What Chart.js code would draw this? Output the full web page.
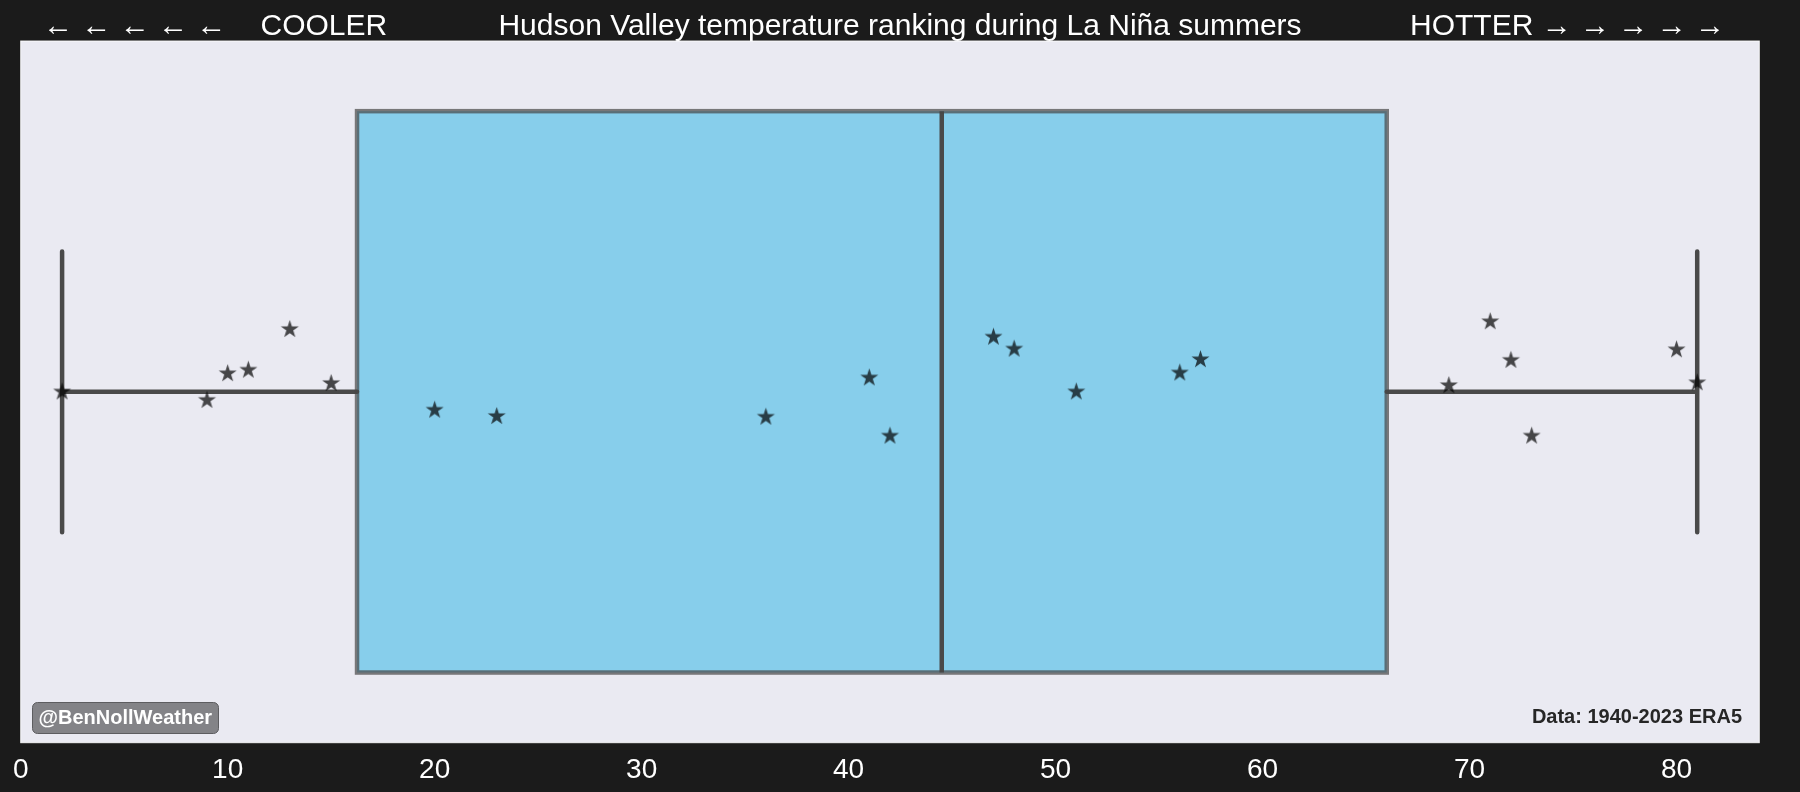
<!DOCTYPE html>
<html><head><meta charset="utf-8">
<script src="https://cdn.jsdelivr.net/npm/chart.js@4.4.1/dist/chart.umd.min.js"></script>
<style>html,body{margin:0;padding:0;background:#1b1b1b;overflow:hidden}canvas{display:block}</style>
</head><body>
<canvas id="c" width="1800" height="792"></canvas>
<script>
// ---- text ----
const titleText = "Hudson Valley temperature ranking during La Niña summers";
const leftArrows = "← ← ← ← ←";
const leftLabel = "COOLER";
const rightLabel = "HOTTER → → → → →";
const creditText = "@BenNollWeather";
const sourceText = "Data: 1940-2023 ERA5";

// ---- data: temperature rank of each La Niña summer (1 = coolest) ----
const ranks  = [2, 9, 10, 11, 13, 15, 20, 23, 36, 41, 42, 47, 48, 51, 56, 57, 69, 71, 72, 73, 80, 81];
// vertical strip-plot jitter of each point (category units, negative = up)
const jitter = [0.000, 0.012, -0.026, -0.031, -0.089, -0.012, 0.026, 0.035, 0.036, -0.020, 0.063,
                -0.078, -0.061, 0.000, -0.027, -0.046, -0.009, -0.100, -0.045, 0.063, -0.060, -0.013];
const tickValues = [0, 10, 20, 30, 40, 50, 60, 70, 80];
const xRange = [0, 84];

const FONT = "'Liberation Sans', Arial, Helvetica, sans-serif";

// ---- box statistics computed from the data ----
function quantile(s, p) {
  const pos = (s.length - 1) * p, lo = Math.floor(pos), hi = Math.ceil(pos);
  return s[lo] + (s[hi] - s[lo]) * (pos - lo);
}
const sorted = ranks.slice().sort((a, b) => a - b);
const q1 = quantile(sorted, 0.25), med = quantile(sorted, 0.5), q3 = quantile(sorted, 0.75);
const iqr = q3 - q1;
const wLo = Math.min(...sorted.filter(v => v >= q1 - 1.5 * iqr));
const wHi = Math.max(...sorted.filter(v => v <= q3 + 1.5 * iqr));

// ---- filled star marker ----
function makeStar(R, color) {
  const c = document.createElement('canvas');
  const s = Math.ceil(R * 2 + 4);
  c.width = s; c.height = s;
  const g = c.getContext('2d');
  const r = R * 0.381966;
  g.beginPath();
  for (let i = 0; i < 10; i++) {
    const rad = i % 2 === 0 ? R : r;
    const a = -Math.PI / 2 + i * Math.PI / 5;
    const px = s / 2 + rad * Math.cos(a), py = s / 2 + rad * Math.sin(a);
    i === 0 ? g.moveTo(px, py) : g.lineTo(px, py);
  }
  g.closePath();
  g.fillStyle = color;
  g.fill();
  return c;
}
const star = makeStar(9.5, 'rgba(0,0,0,0.7)');

const bgPlugin = {
  id: 'bg',
  beforeDraw(chart) {
    const { ctx, chartArea: a } = chart;
    ctx.save();
    ctx.fillStyle = '#1b1b1b';
    ctx.fillRect(0, 0, chart.width, chart.height);
    ctx.fillStyle = '#eaeaf2';
    ctx.fillRect(a.left, a.top, a.right - a.left, a.bottom - a.top);
    ctx.strokeStyle = 'rgba(255,255,255,0.85)';
    ctx.lineWidth = 1;
    ctx.strokeRect(a.left, a.top, a.right - a.left, a.bottom - a.top);
    ctx.restore();
  }
};

const boxPlugin = {
  id: 'box',
  beforeDatasetsDraw(chart) {
    const { ctx, scales: { x, y } } = chart;
    const xq1 = x.getPixelForValue(q1), xq3 = x.getPixelForValue(q3), xm = x.getPixelForValue(med);
    const xlo = x.getPixelForValue(wLo), xhi = x.getPixelForValue(wHi);
    const yt = y.getPixelForValue(-0.4), yb = y.getPixelForValue(0.4), yc = y.getPixelForValue(0);
    const ct = y.getPixelForValue(-0.2), cb = y.getPixelForValue(0.2);
    ctx.save();
    ctx.fillStyle = '#87ceeb';
    ctx.fillRect(xq1, yt, xq3 - xq1, yb - yt);
    ctx.lineCap = 'round';
    ctx.lineWidth = 4.5;
    ctx.strokeStyle = '#4a4a4a';
    // whiskers
    ctx.beginPath();
    ctx.moveTo(xq1, yc); ctx.lineTo(xlo, yc);
    ctx.moveTo(xq3, yc); ctx.lineTo(xhi, yc);
    ctx.moveTo(xlo, ct); ctx.lineTo(xlo, cb);
    ctx.moveTo(xhi, ct); ctx.lineTo(xhi, cb);
    ctx.stroke();
    // median
    ctx.lineCap = 'butt';
    ctx.beginPath();
    ctx.moveTo(xm, yt); ctx.lineTo(xm, yb);
    ctx.stroke();
    // box edge
    ctx.strokeStyle = 'rgba(70,70,70,0.7)';
    ctx.lineWidth = 4.5;
    ctx.strokeRect(xq1, yt, xq3 - xq1, yb - yt);
    ctx.restore();
  }
};

const textPlugin = {
  id: 'texts',
  afterDraw(chart) {
    const { ctx, chartArea: a } = chart;
    ctx.save();
    ctx.fillStyle = '#ffffff';
    ctx.font = `30px ${FONT}`;
    ctx.textBaseline = 'alphabetic';
    ctx.textAlign = 'left';
    ctx.fillText(leftArrows, 43, 35);
    ctx.fillText(leftLabel, 260.5, 35);
    ctx.fillText(rightLabel, 1410, 35);
    ctx.textAlign = 'center';
    ctx.fillText(titleText, 900, 35);

    // credit box
    ctx.beginPath();
    ctx.roundRect(32.5, 702.5, 186, 31, 5);
    ctx.fillStyle = '#838387';
    ctx.fill();
    ctx.strokeStyle = '#5d5d60';
    ctx.lineWidth = 1;
    ctx.stroke();
    ctx.fillStyle = '#ffffff';
    ctx.font = `bold 20px ${FONT}`;
    ctx.textAlign = 'left';
    ctx.textBaseline = 'middle';
    ctx.fillText(creditText, 38.5, 718);

    ctx.fillStyle = '#262626';
    ctx.textAlign = 'right';
    ctx.fillText(sourceText, 1742, 717.5);
    ctx.restore();
  }
};

new Chart(document.getElementById('c'), {
  type: 'scatter',
  data: {
    datasets: [{
      data: ranks.map((r, i) => ({ x: r, y: jitter[i] })),
      pointStyle: star,
      pointRadius: 10,
      backgroundColor: 'rgba(0,0,0,0.7)',
      borderWidth: 0
    }]
  },
  options: {
    responsive: false,
    animation: false,
    devicePixelRatio: 1,
    layout: { padding: { left: 20.7, right: 40.7, top: 41, bottom: 0 } },
    plugins: { legend: { display: false }, tooltip: { enabled: false } },
    scales: {
      x: {
        type: 'linear', min: xRange[0], max: xRange[1],
        grid: { display: false }, border: { display: false },
        afterBuildTicks: s => { s.ticks = tickValues.map(v => ({ value: v })); },
        afterFit: s => { s.height = 49.3; },
        ticks: { color: '#ffffff', font: { family: FONT, size: 28 }, padding: 3, maxRotation: 0 }
      },
      y: { type: 'linear', min: -0.5, max: 0.5, reverse: true, display: false }
    }
  },
  plugins: [bgPlugin, boxPlugin, textPlugin]
});
</script>
</body></html>
